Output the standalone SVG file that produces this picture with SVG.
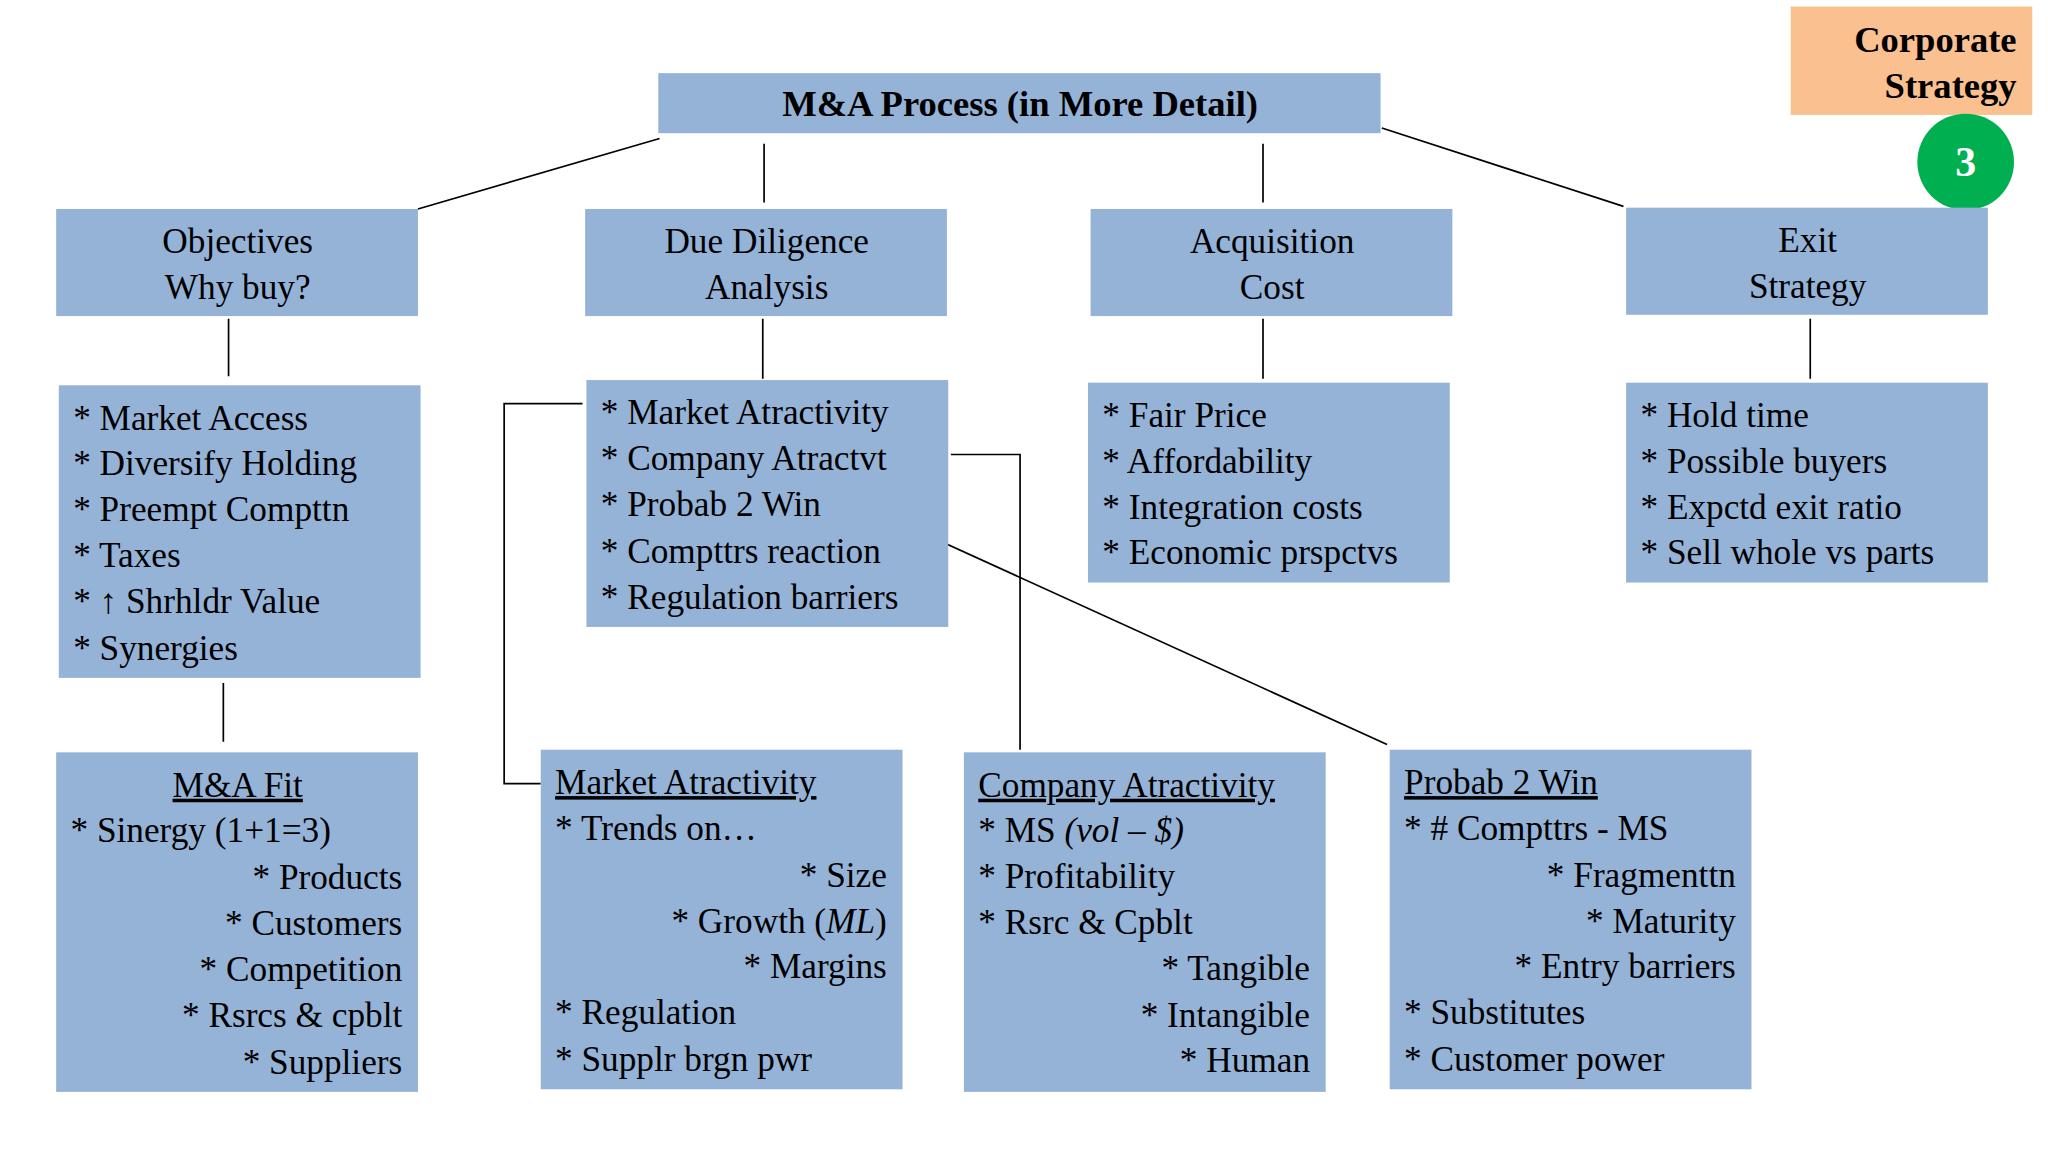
<svg xmlns="http://www.w3.org/2000/svg" width="2048" height="1152" viewBox="0 0 2048 1152">
<style>
.b{fill:#95b3d7}
text{font-family:"Liberation Serif","Times New Roman",serif;font-size:27px;fill:#000}
.c{text-anchor:middle}
.r{text-anchor:end}
.t{font-weight:bold;font-size:28px}
.l{stroke:#000;stroke-width:1.3;fill:none}
</style>
<rect width="2048" height="1152" fill="#fff"/>
<g transform="scale(1.3061)">
<g id="connectors" class="l">
<path d="M320 160L505 106M585 110V155M967 110V155M1058 98L1243 158M175 244V288M584 244V290M967 244V290M1386 244V290M171 523V568M446 309H386V600H414M728 348H781V574M673 393L1062 570"/>
</g>
<g id="corp"><rect x="1371" y="5" width="185" height="83" fill="#fac090"/>
<text class="r t" x="1544" y="40">Corporate</text><text class="r t" x="1544" y="75">Strategy</text></g>
<g id="badge"><circle cx="1505" cy="124" r="37" fill="#00b050"/><text class="c t" x="1505" y="135" style="fill:#fff;font-size:32px">3</text></g>
<g id="title"><rect class="b" x="504" y="56" width="553" height="46"/><text class="c t" x="781" y="89">M&amp;A Process (in More Detail)</text></g>
<g id="obj"><rect class="b" x="43" y="160" width="277" height="82"/><text class="c" x="182" y="194">Objectives</text><text class="c" x="182" y="229">Why buy?</text></g>
<g id="dd"><rect class="b" x="448" y="160" width="277" height="82"/><text class="c" x="587" y="194">Due Diligence</text><text class="c" x="587" y="229">Analysis</text></g>
<g id="acq"><rect class="b" x="835" y="160" width="277" height="82"/><text class="c" x="974" y="194">Acquisition</text><text class="c" x="974" y="229">Cost</text></g>
<g id="exit"><rect class="b" x="1245" y="159" width="277" height="82"/><text class="c" x="1384" y="193">Exit</text><text class="c" x="1384" y="228">Strategy</text></g>
<g id="objlist"><rect class="b" x="45" y="295" width="277" height="224"/>
<text x="56" y="329">* Market Access</text><text x="56" y="364">* Diversify Holding</text><text x="56" y="399">* Preempt Compttn</text><text x="56" y="434">* Taxes</text><text x="56" y="469">* ↑ Shrhldr Value</text><text x="56" y="505">* Synergies</text></g>
<g id="ddlist"><rect class="b" x="449" y="291" width="277" height="189"/>
<text x="460" y="325">* Market Atractivity</text><text x="460" y="360">* Company Atractvt</text><text x="460" y="395">* Probab 2 Win</text><text x="460" y="431">* Compttrs reaction</text><text x="460" y="466">* Regulation barriers</text></g>
<g id="acqlist"><rect class="b" x="833" y="293" width="277" height="153"/>
<text x="844" y="327">* Fair Price</text><text x="844" y="362">* Affordability</text><text x="844" y="397">* Integration costs</text><text x="844" y="432">* Economic prspctvs</text></g>
<g id="exitlist"><rect class="b" x="1245" y="293" width="277" height="153"/>
<text x="1256" y="327">* Hold time</text><text x="1256" y="362">* Possible buyers</text><text x="1256" y="397">* Expctd exit ratio</text><text x="1256" y="432">* Sell whole vs parts</text></g>
<g id="fit"><rect class="b" x="43" y="576" width="277" height="260"/>
<text class="c" x="182" y="610" text-decoration="underline">M&amp;A Fit</text><text x="54" y="645">* Sinergy (1+1=3)</text>
<text class="r" x="308" y="681">* Products</text><text class="r" x="308" y="716">* Customers</text><text class="r" x="308" y="751">* Competition</text><text class="r" x="308" y="786">* Rsrcs &amp; cpblt</text><text class="r" x="308" y="822">* Suppliers</text></g>
<g id="mkt"><rect class="b" x="414" y="574" width="277" height="260"/>
<text x="425" y="608" text-decoration="underline">Market Atractivity</text><text x="425" y="643">* Trends on…</text>
<text class="r" x="679" y="679">* Size</text><text class="r" x="679" y="714">* Growth (<tspan font-style="italic">ML</tspan>)</text><text class="r" x="679" y="749">* Margins</text>
<text x="425" y="784">* Regulation</text><text x="425" y="820">* Supplr brgn pwr</text></g>
<g id="comp"><rect class="b" x="738" y="576" width="277" height="260"/>
<text x="749" y="610" text-decoration="underline">Company Atractivity</text><text x="749" y="645">* MS <tspan font-style="italic">(vol – $)</tspan></text><text x="749" y="680">* Profitability</text><text x="749" y="715">* Rsrc &amp; Cpblt</text>
<text class="r" x="1003" y="750">* Tangible</text><text class="r" x="1003" y="786">* Intangible</text><text class="r" x="1003" y="821">* Human</text></g>
<g id="win"><rect class="b" x="1064" y="574" width="277" height="260"/>
<text x="1075" y="608" text-decoration="underline">Probab 2 Win</text><text x="1075" y="643">* # Compttrs - MS</text>
<text class="r" x="1329" y="679">* Fragmenttn</text><text class="r" x="1329" y="714">* Maturity</text><text class="r" x="1329" y="749">* Entry barriers</text>
<text x="1075" y="784">* Substitutes</text><text x="1075" y="820">* Customer power</text></g>
</g>
</svg>
